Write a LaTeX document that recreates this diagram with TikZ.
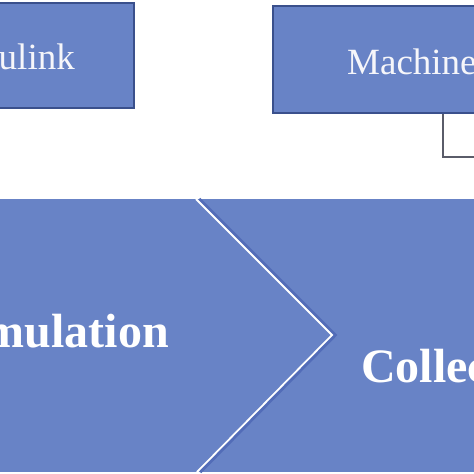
\documentclass[tikz,border=0pt]{standalone}
\usepackage{fontspec}
\setmainfont{Liberation Serif}
\definecolor{boxfill}{RGB}{104,131,198}
\definecolor{boxedge}{RGB}{58,80,140}
\definecolor{darkband}{RGB}{82,108,184}
\definecolor{linkgray}{RGB}{90,92,105}
\definecolor{txt}{RGB}{246,246,250}
\begin{document}
\begin{tikzpicture}[x=1pt,y=-1pt,
  topbox/.style={draw=boxedge,line width=1.6pt,fill=boxfill,inner sep=0pt},
  toptext/.style={text=txt,inner sep=0pt,font=\fontsize{37}{42}\selectfont},
  bigtext/.style={text=white,inner sep=0pt,font=\bfseries\fontsize{48}{52}\selectfont},
  link/.style={draw=linkgray,line width=1.4pt}]
\useasboundingbox (0,0) rectangle (474,474);
\clip (0,0) rectangle (474,474);
\fill[white] (0,0) rectangle (474,474);
% top boxes
\node[topbox,minimum width=234pt,minimum height=105pt] (simbox) at (17,55.5) {};
\node[topbox,minimum width=260pt,minimum height=107pt] (mach) at (403,59.5) {};
\node[toptext,anchor=base east] (simtxt) at (75,69) {Simulink};
\node[toptext,anchor=base west] (machtxt) at (347,74) {Machine};
% connector
\coordinate (cx) at (443,0);
\coordinate (cend) at (490,157);
\draw[link] (mach.south -| cx) |- (cend);
% bottom chevron band
\coordinate (ctop) at (196,199);
\coordinate (ctip) at (332,335);
\coordinate (cbot) at (197,472);
\fill[boxfill] (-10,199) rectangle (490,472);
\draw[darkband,line width=3.5pt] ([xshift=3pt]ctop) -- ([xshift=3pt]ctip) -- ([xshift=3pt]cbot);
\draw[white,line width=1.8pt] (ctop) -- (ctip) -- (cbot);
\node[bigtext,anchor=base east] (simul) at (169,347) {Simulation};
\node[bigtext,anchor=base west] (collect) at (361,382) {Collection};
\end{tikzpicture}
\end{document}
